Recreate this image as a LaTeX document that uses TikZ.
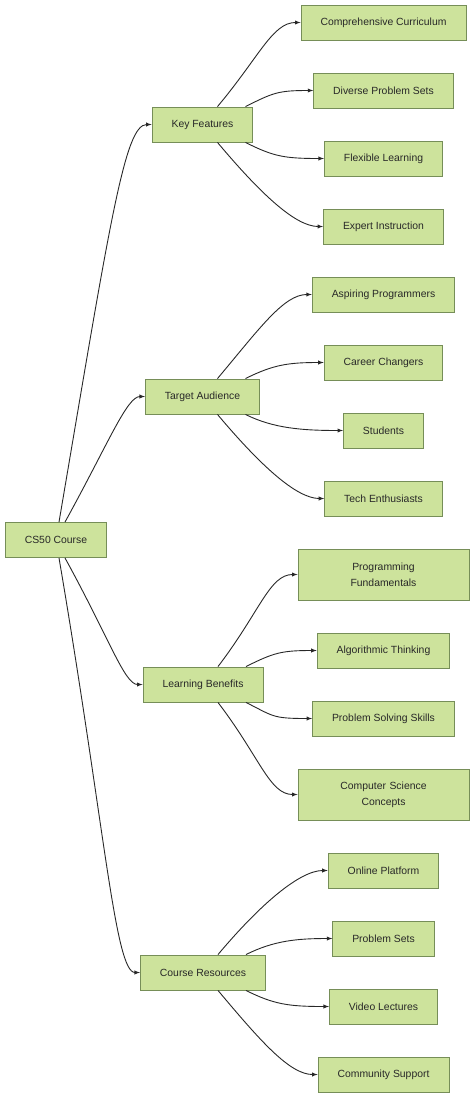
\documentclass[tikz,border=0pt]{standalone}
\usepackage{fontspec}
\setmainfont{Liberation Sans}
\usetikzlibrary{arrows,positioning,calc}
\definecolor{boxfill}{RGB}{205,227,156}
\definecolor{boxline}{RGB}{118,142,88}
\definecolor{linkcol}{RGB}{40,40,40}
\tikzstyle{topic} = [draw=boxline,fill=boxfill,line width=0.9pt,minimum height=35pt,inner xsep=19.5pt,inner ysep=0pt,text=linkcol,font=\fontsize{10.4pt}{16pt}\selectfont]
\tikzstyle{wide}  = [topic,text width=132pt,align=center,minimum height=51pt]
\tikzstyle{link}  = [->,line width=0.9pt,draw=linkcol,arrows={-latex}]

\begin{document}
\begin{tikzpicture}[x=1pt,y=-1pt]
      \useasboundingbox (0,0) rectangle (474,1098);
      % root and branches
      \node (cs)[topic] at (56,540) {CS50 Course};
      \node (kf)[topic] at (202.5,124.5) {Key Features};
      \node (ta)[topic] at (202.5,396.5) {Target Audience};
      \node (lb)[topic] at (203,684.5) {Learning Benefits};
      \node (cr)[topic] at (203,972.5) {Course Resources};
      % leaves
      \node (cc)[topic] at (383.5,22.5) {Comprehensive Curriculum};
      \node (dp)[topic] at (383.5,90.5) {Diverse Problem Sets};
      \node (fl)[topic] at (383.5,158.5) {Flexible Learning};
      \node (ei)[topic] at (383.5,226.5) {Expert Instruction};
      \node (ap)[topic] at (383.5,294.5) {Aspiring Programmers};
      \node (ch)[topic] at (383.5,362.5) {Career Changers};
      \node (st)[topic] at (383.5,430.5) {Students};
      \node (te)[topic] at (383.5,498.5) {Tech Enthusiasts};
      \node (pf)[wide]  at (383.5,574.5) {Programming\\Fundamentals};
      \node (at)[topic] at (383.5,650.5) {Algorithmic Thinking};
      \node (ps)[topic] at (383.5,718.5) {Problem Solving Skills};
      \node (cs2)[wide] at (383.5,794.5) {Computer Science\\Concepts};
      \node (op)[topic] at (383.5,870.5) {Online Platform};
      \node (pr)[topic] at (383.5,938.5) {Problem Sets};
      \node (vl)[topic] at (383.5,1006.5) {Video Lectures};
      \node (co)[topic] at (383.5,1074.5) {Community Support};

      % root to branches
      \draw[link] ([xshift=3pt]cs.north) .. controls +(51,-300) and +(-27,0) .. (kf.west);
      \draw[link] ([xshift=9pt]cs.north) .. controls +(44,-80) and +(-18,0) .. (ta.west);
      \draw[link] ([xshift=9pt]cs.south) .. controls +(44,80) and +(-18,0) .. (lb.west);
      \draw[link] ([xshift=3pt]cs.south) .. controls +(46,270) and +(-25,0) .. (cr.west);

      % key features
      \draw[link] ([xshift=15pt]kf.north) .. controls +(42,-50) and +(-28,0) .. (cc.west);
      \draw[link] ([xshift=43pt]kf.north) .. controls +(28,-14) and +(-35,0) .. (dp.west);
      \draw[link] ([xshift=43pt]kf.south) .. controls +(28,14) and +(-40,0) .. (fl.west);
      \draw[link] ([xshift=15pt]kf.south) .. controls +(42,50) and +(-28,0) .. (ei.west);
      % target audience
      \draw[link] ([xshift=15pt]ta.north) .. controls +(42,-50) and +(-28,0) .. (ap.west);
      \draw[link] ([xshift=43pt]ta.north) .. controls +(28,-14) and +(-35,0) .. (ch.west);
      \draw[link] ([xshift=43pt]ta.south) .. controls +(28,14) and +(-40,0) .. (st.west);
      \draw[link] ([xshift=15pt]ta.south) .. controls +(42,50) and +(-28,0) .. (te.west);
      % learning benefits
      \draw[link] ([xshift=15pt]lb.north) .. controls +(42,-55) and +(-28,0) .. (pf.west);
      \draw[link] ([xshift=43pt]lb.north) .. controls +(28,-14) and +(-35,0) .. (at.west);
      \draw[link] ([xshift=43pt]lb.south) .. controls +(28,14) and +(-40,0) .. (ps.west);
      \draw[link] ([xshift=15pt]lb.south) .. controls +(42,55) and +(-28,0) .. (cs2.west);
      % course resources
      \draw[link] ([xshift=15pt]cr.north) .. controls +(42,-50) and +(-28,0) .. (op.west);
      \draw[link] ([xshift=43pt]cr.north) .. controls +(28,-14) and +(-35,0) .. (pr.west);
      \draw[link] ([xshift=43pt]cr.south) .. controls +(28,14) and +(-40,0) .. (vl.west);
      \draw[link] ([xshift=15pt]cr.south) .. controls +(42,50) and +(-28,0) .. (co.west);
\end{tikzpicture}
\end{document}
